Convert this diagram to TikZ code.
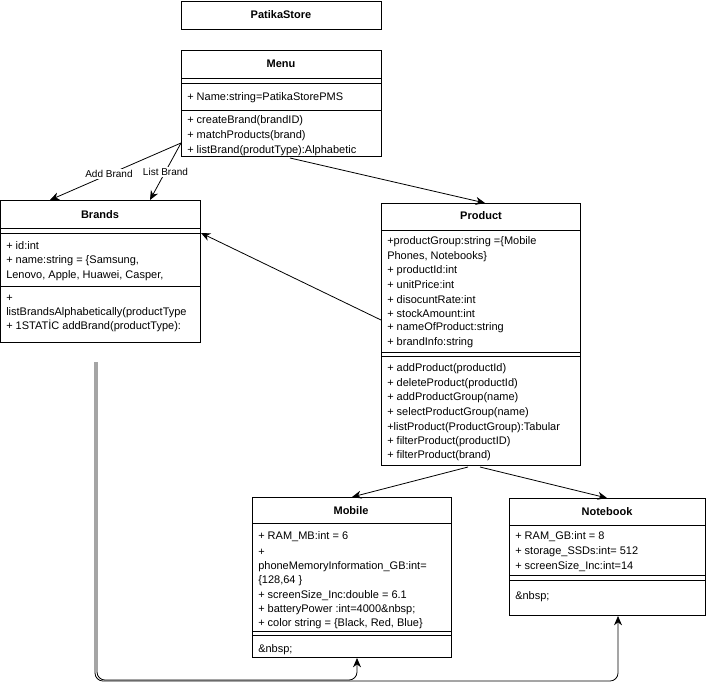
\documentclass[tikz,border=0pt]{standalone}
\usepackage{fontspec}
\setmainfont{Liberation Sans}
\usetikzlibrary{arrows.meta,calc,positioning}

\begin{document}
\begin{tikzpicture}[x=0.75pt,y=-0.75pt,
  box/.style={draw,rectangle,anchor=north west,outer sep=0pt,inner sep=0pt},
  title/.style={font=\fontsize{8.25}{10}\selectfont\bfseries},
  attr/.style={anchor=west,inner sep=0pt,font=\fontsize{8.25}{10}\selectfont},
  lbl/.style={fill=white,inner sep=1pt,font=\fontsize{7.5}{9}\selectfont},
  link/.style={-{Stealth[length=7pt,width=6pt]},line width=0.6pt}]

  \useasboundingbox (0,0) rectangle (709,690);

  % store title
  \node (S) [box,minimum width=150pt,minimum height=21pt] at (181,1) {};
  \node[title] at (S.center) {PatikaStore};

  % Menu
  \node (M) [box,minimum width=150pt,minimum height=80pt] at (181,50) {};
  \node[title] at (281,64) {Menu};
  \draw (181,78) -- (381,78) (181,83) -- (381,83) (181,110) -- (381,110);
  \node[attr] at (187,98) {+ Name:string=PatikaStorePMS};
  \node[attr] at (187,121) {+ createBrand(brandID)};
  \node[attr] at (187,136) {+ matchProducts(brand)};
  \node[attr,fill=white] at (187,151) {+ listBrand(produtType):Alphabetic};

  % Brands
  \node (B) [box,minimum width=150pt,minimum height=107pt] at (0,200) {};
  \node[title] at (100,215) {Brands};
  \draw (0,228) -- (201,228) (0,233) -- (201,233) (0,286) -- (201,286);
  \node[attr] at (6,246) {+ id:int};
  \node[attr] at (6,261) {+ name:string = \{Samsung,};
  \node[attr] at (6,276) {Lenovo, Apple, Huawei, Casper,};
  \node[attr] at (6,298) {+};
  \begin{scope}
    \clip (0,286) rectangle (199,343);
    \node[attr] at (6,313) {listBrandsAlphabetically(productType};
    \node[attr] at (6,326) {+ 1STAT\.{I}C addBrand(productType):};
  \end{scope}

  % Product
  \node (P) [box,minimum width=149.25pt,minimum height=196.5pt] at (381,203) {};
  \node[title] at (481,216) {Product};
  \draw (381,230) -- (580,230) (381,352) -- (580,352) (381,356) -- (580,356);
  \node[attr] at (387,242) {+productGroup:string =\{Mobile};
  \node[attr] at (387,257) {Phones, Notebooks\}};
  \node[attr] at (387,271) {+ productId:int};
  \node[attr] at (387,285) {+ unitPrice:int};
  \node[attr] at (387,300) {+ disocuntRate:int};
  \node[attr] at (387,314) {+ stockAmount:int};
  \node[attr] at (387,328) {+ nameOfProduct:string};
  \node[attr] at (387,343) {+ brandInfo:string};
  \node[attr] at (387,369) {+ addProduct(productId)};
  \node[attr] at (387,384) {+ deleteProduct(productId)};
  \node[attr] at (387,398) {+ addProductGroup(name)};
  \node[attr] at (387,413) {+ selectProductGroup(name)};
  \node[attr] at (387,428) {+listProduct(ProductGroup):Tabular};
  \node[attr] at (387,442) {+ filterProduct(productID)};
  \node[attr] at (387,456) {+ filterProduct(brand)};

  % Mobile
  \node (Mo) [box,minimum width=149.25pt,minimum height=120pt] at (252,497) {};
  \node[title] at (351,511) {Mobile};
  \draw (252,523) -- (451,523) (252,631) -- (451,631) (252,635) -- (451,635);
  \node[attr] at (258,537) {+ RAM\_MB:int = 6};
  \node[attr] at (258,552) {+};
  \node[attr] at (258,567) {phoneMemoryInformation\_GB:int=};
  \node[attr] at (258,581) {\{128,64 \}};
  \node[attr] at (258,596) {+ screenSize\_Inc:double = 6.1};
  \node[attr] at (258,610) {+ batteryPower :int=4000\&nbsp;};
  \node[attr] at (258,624) {+ color string = \{Black, Red, Blue\}};
  \node[attr] at (258,650) {\&nbsp;};

  % Notebook
  \node (N) [box,minimum width=147pt,minimum height=88pt] at (509,498) {};
  \node[title] at (607,512) {Notebook};
  \draw (509,525) -- (705,525) (509,575) -- (705,575) (509,580) -- (705,580);
  \node[attr] at (515,537) {+ RAM\_GB:int = 8};
  \node[attr] at (515,552) {+ storage\_SSDs:int= 512};
  \node[attr] at (515,567) {+ screenSize\_Inc:int=14};
  \node[attr] at (515,597) {\&nbsp;};

  % connectors
  \coordinate (m1) at (181,143);
  \coordinate (m2) at (290,158);
  \coordinate (p1) at (381,320);
  \coordinate (p2) at (468,467);
  \coordinate (p3) at (480,467);
  \coordinate (b1) at (95,362);
  \coordinate (b2) at (97,362);
  \draw[link] (m1) -- node[lbl,pos=0.55] {Add Brand} (50,200);
  \draw[link] (m1) -- node[lbl,pos=0.5] {List Brand} (150,200);
  \draw[link] (m2) -- (485,203);
  \draw[link] (p1) -- (201,233);
  \draw[link] (p2) -- (352,497);
  \draw[link] (p3) -- (607,498);
  \draw[link,rounded corners=6pt] (b2) |- (357,680) -- (357,658);
  \draw[link,rounded corners=6pt] (b1) |- (618,681) -- (618,616);
\end{tikzpicture}
\end{document}
